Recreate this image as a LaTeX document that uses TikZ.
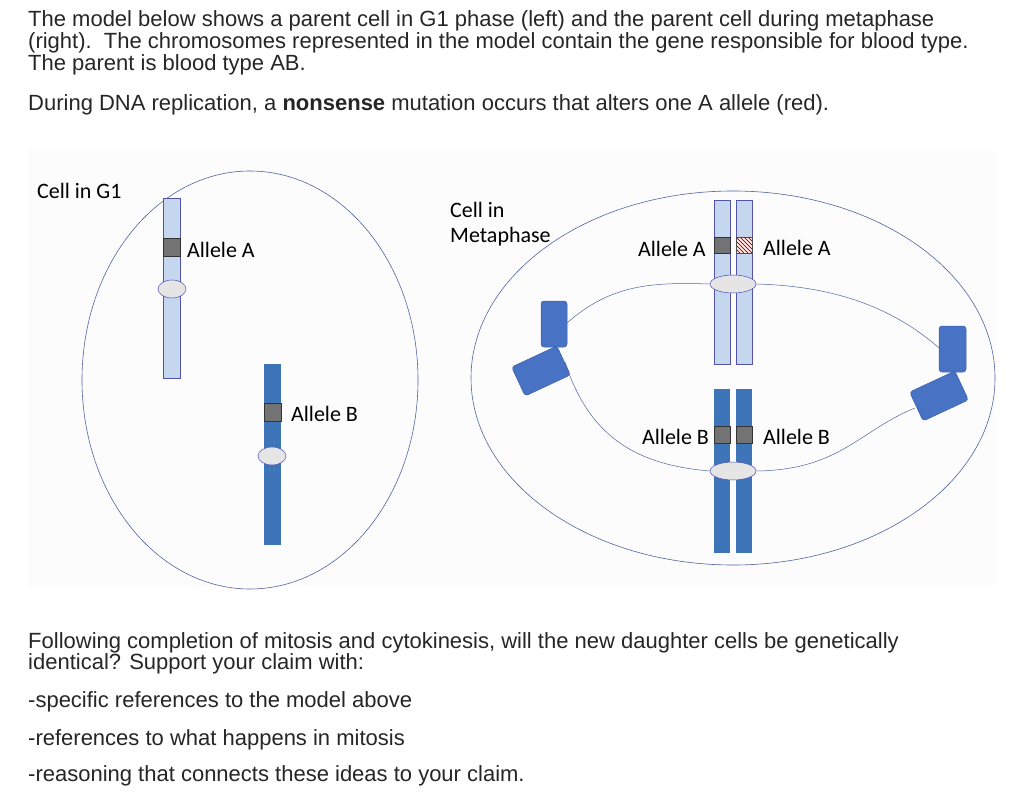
\documentclass[tikz,border=0pt]{standalone}
\usepackage{fontspec}
\usetikzlibrary{shapes.geometric}
\setmainfont{Liberation Sans}
\newfontfamily\calfont{Carlito}
\begin{document}
\begin{tikzpicture}[x=1pt,y=-1pt,
  hdr/.style={anchor=base west,inner sep=0pt,font=\fontsize{22}{24}\selectfont,text=black!85},
  lbl/.style={anchor=base west,inner sep=0pt,font=\calfont\fontsize{22}{26}\selectfont},
  band/.style={fill=black!55,draw=black!80,line width=0.6pt},
  centro/.style={ellipse,fill=black!10,draw=blue!40!gray,line width=0.5pt,inner sep=0pt},
  cell/.style={draw={rgb,255:red,80;green,100;blue,160},line width=0.6pt},
  fiber/.style={draw={rgb,255:red,80;green,100;blue,160},line width=0.5pt},
  csome/.style={fill={rgb,255:red,72;green,114;blue,196},draw={rgb,255:red,60;green,95;blue,170},rounded corners=3pt,line width=0.5pt}]
\useasboundingbox (0,0) rectangle (1024,799);
\fill[white] (0,0) rectangle (1024,799);
\fill[black!1] (27,150) rectangle (996,586);
\definecolor{lb}{RGB}{197,215,238}
\definecolor{db}{RGB}{62,116,184}
% text
\node[hdr] (t1) at (28,27) {The model below shows a parent cell in G1 phase (left) and the parent cell during metaphase};
\node[hdr] (t2) at (28,49) {(right).\ \ The chromosomes represented in the model contain the gene responsible for blood type.};
\node[hdr] (t3) at (28,71) {The parent is blood type AB.};
\node[hdr] (t4) at (28,111) {During DNA replication, a \textbf{nonsense} mutation occurs that alters one A allele (red).};
\node[hdr] (b1) at (28,648) {Following completion of mitosis and cytokinesis, will the new daughter cells be genetically};
\node[hdr] (b2) at (28,669) {identical? Support your claim with:};
\node[hdr] (b3) at (28,707) {-specific references to the model above};
\node[hdr] (b4) at (28,745) {-references to what happens in mitosis};
\node[hdr] (b5) at (28,781) {-reasoning that connects these ideas to your claim.};
% left cell
\draw[cell] (250,380) ellipse[x radius=168,y radius=209];
\fill[lb,draw=blue!35!gray,line width=0.6pt] (163,198) rectangle (180,378);
\draw[band] (163,238) rectangle (180,256);
\node[centro,minimum width=28pt,minimum height=18pt] (lca) at (172,289) {};
\fill[db] (264,364) rectangle (281,545);
\draw[band] (264,403) rectangle (281,421);
\node[centro,minimum width=28pt,minimum height=18pt] (lcb) at (272,456) {};
\node[lbl] (g1) at (37,199) {Cell in G1};
\node[lbl] (la) at (187,258) {Allele A};
\node[lbl] (lb) at (291,421) {Allele B};
% right cell
\draw[cell] (733,378) ellipse[x radius=262,y radius=187];
\node[lbl] (m1) at (450,218) {Cell in};
\node[lbl] (m2) at (450,243) {Metaphase};
\fill[lb,draw=blue!35!gray,line width=0.6pt] (714,200) rectangle (730,364);
\fill[lb,draw=blue!35!gray,line width=0.6pt] (736,200) rectangle (752,364);
\draw[band] (714,237) rectangle (730,253);
\fill[white] (736,237) rectangle (752,253);
\begin{scope}
\clip (736,237) rectangle (752,253);
\foreach \i in {-20,-16,...,20} \draw[red!80!black,line width=1pt] (736+\i,237) -- (736+\i+16,253);
\end{scope}
\draw[black!70,line width=0.6pt] (736,237) rectangle (752,253);
\fill[db] (714,389) rectangle (730,553);
\fill[db] (736,389) rectangle (752,553);
\draw[band] (714,426) rectangle (730,443);
\draw[band] (736,426) rectangle (752,443);
% centrosomes
\draw[csome] (541,301) rectangle (567,347);
\draw[csome,rotate around={25:(541,371)}] (516,355) rectangle (566,387);
\draw[csome] (939,326) rectangle (966,372);
\draw[csome,rotate around={25:(939,396)}] (914,380) rectangle (964,412);
\coordinate (lu) at (567,323);
\coordinate (ll) at (565,362);
\coordinate (ru) at (939,348);
\coordinate (rl) at (915,408);
\node[centro,minimum width=46pt,minimum height=18pt] (rca) at (733,284) {};
\node[centro,minimum width=46pt,minimum height=18pt] (rcb) at (733,471) {};
\draw[fiber] (lu) .. controls (610,285) and (650,282) .. (rca.west);
\draw[fiber] (rca.east) .. controls (830,286) and (890,305) .. (ru);
\draw[fiber] (ll) .. controls (590,440) and (640,465) .. (rcb.west);
\draw[fiber] (rcb.east) .. controls (840,470) and (860,430) .. (rl);
\node[lbl] (ra1) at (638,257) {Allele A};
\node[lbl] (ra2) at (763,256) {Allele A};
\node[lbl] (rb1) at (642,444) {Allele B};
\node[lbl] (rb2) at (763,444) {Allele B};
\end{tikzpicture}
\end{document}
